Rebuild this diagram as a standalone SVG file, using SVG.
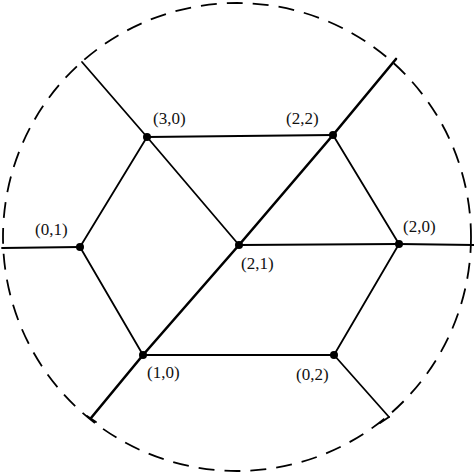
<svg xmlns="http://www.w3.org/2000/svg" width="474" height="474" viewBox="0 0 474 474">
<style>
.e{stroke:#000;stroke-width:1.8;fill:none;stroke-linecap:round}
.b{stroke:#000;stroke-width:2.6;fill:none;stroke-linecap:round}
.d{fill:#000}
.t{font-family:"Liberation Serif",serif;font-size:17px;fill:#111}
</style>
<rect width="474" height="474" fill="#fff"/>
<circle cx="237" cy="237" r="234" fill="none" stroke="#000" stroke-width="1.8" stroke-dasharray="16 10"/>
<g id="connectors">
<line class="e" x1="147" y1="137" x2="333" y2="135"/>
<line class="e" x1="147" y1="137" x2="80" y2="247"/>
<line class="e" x1="147" y1="137" x2="239" y2="245"/>
<line class="e" x1="147" y1="137" x2="82" y2="62"/>
<line class="b" x1="333" y1="135" x2="396" y2="59"/>
<line class="b" x1="333" y1="135" x2="239" y2="245"/>
<line class="e" x1="333" y1="135" x2="399" y2="244"/>
<line class="e" x1="80" y1="247" x2="2" y2="248"/>
<line class="e" x1="80" y1="247" x2="143" y2="355"/>
<line class="e" x1="239" y1="245" x2="399" y2="244"/>
<line class="b" x1="239" y1="245" x2="143" y2="355"/>
<line class="e" x1="399" y1="244" x2="474" y2="245"/>
<line class="e" x1="399" y1="244" x2="334" y2="355"/>
<line class="e" x1="143" y1="355" x2="334" y2="355"/>
<line class="b" x1="143" y1="355" x2="91" y2="418"/>
<line class="e" x1="87" y1="416" x2="96" y2="422"/>
<line class="e" x1="334" y1="355" x2="389" y2="417"/>
<line class="e" x1="380" y1="423" x2="389" y2="417"/>
</g>
<g id="n30"><circle class="d" cx="147" cy="137" r="4"/><text class="t" x="153" y="124">(3,0)</text></g>
<g id="n22"><circle class="d" cx="333" cy="135" r="4"/><text class="t" x="286" y="124">(2,2)</text></g>
<g id="n01"><circle class="d" cx="80" cy="247" r="4"/><text class="t" x="35" y="235">(0,1)</text></g>
<g id="n21"><circle class="d" cx="239" cy="245" r="4"/><text class="t" x="241" y="269">(2,1)</text></g>
<g id="n20"><circle class="d" cx="399" cy="244" r="4"/><text class="t" x="403" y="232">(2,0)</text></g>
<g id="n10"><circle class="d" cx="143" cy="355" r="4"/><text class="t" x="147" y="378">(1,0)</text></g>
<g id="n02"><circle class="d" cx="334" cy="355" r="4"/><text class="t" x="296" y="380">(0,2)</text></g>
</svg>
